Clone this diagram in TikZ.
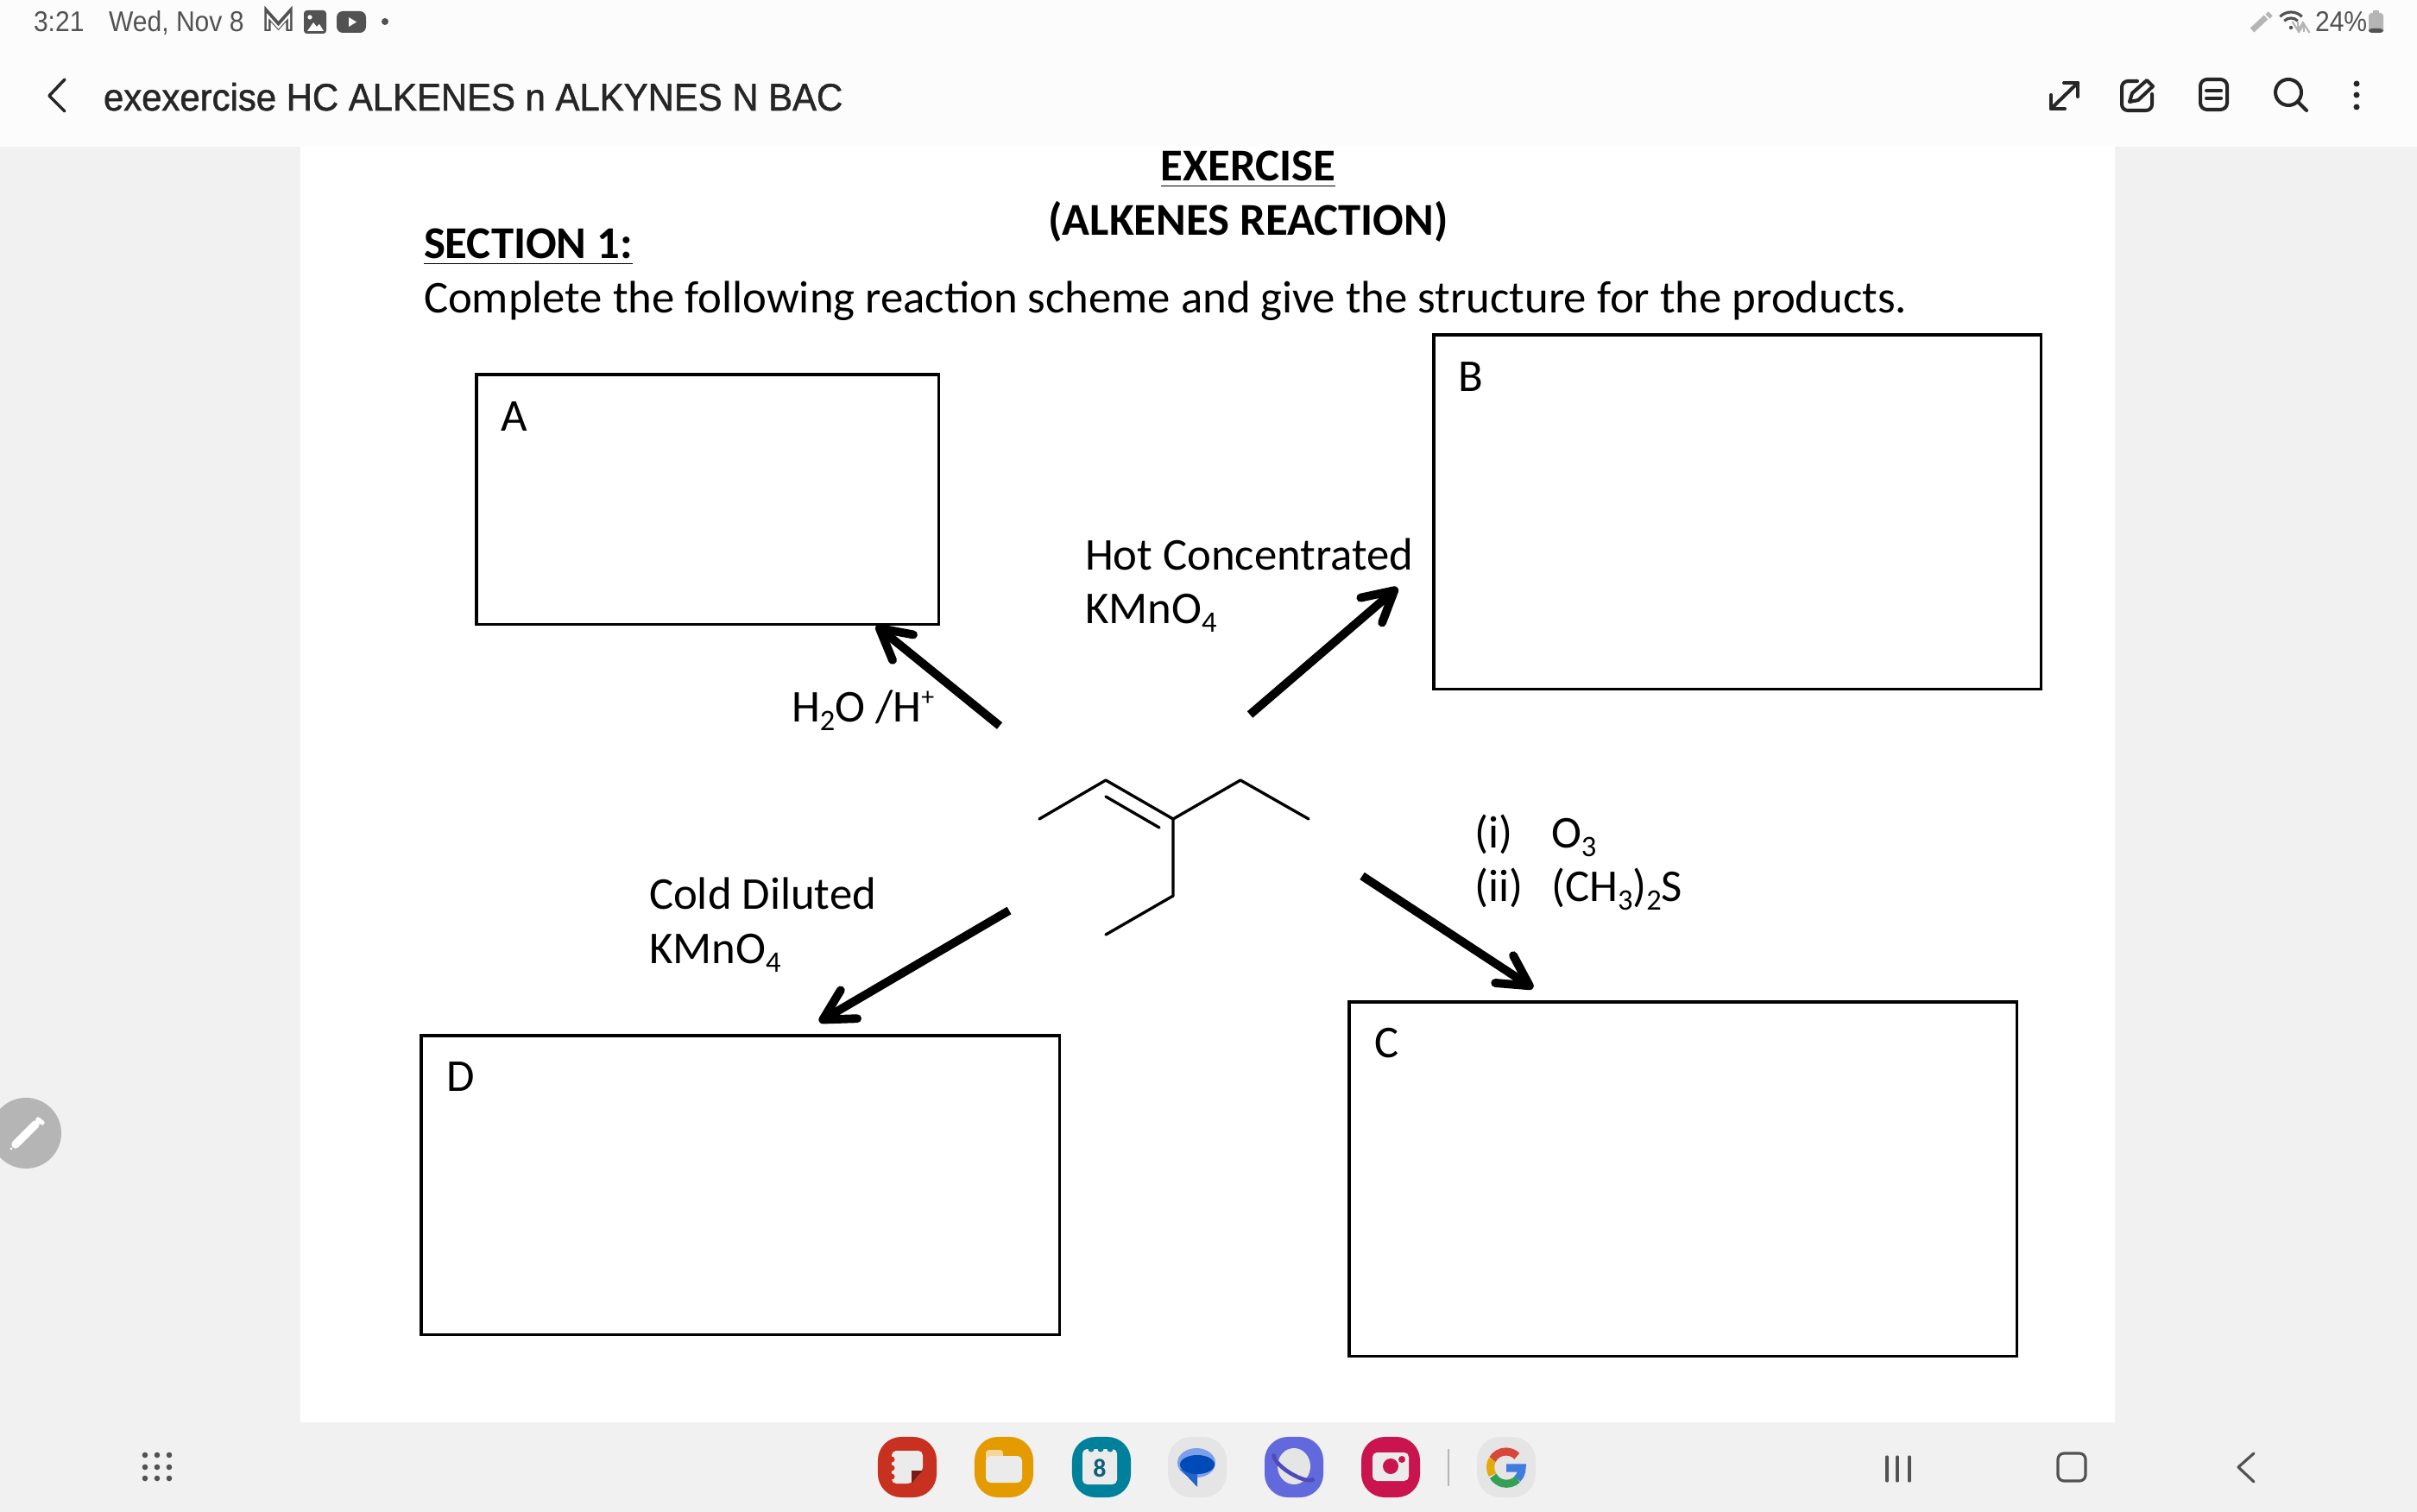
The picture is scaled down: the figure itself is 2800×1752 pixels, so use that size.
\documentclass[tikz,border=0pt]{standalone}
\usepackage{fontspec}
\setmainfont{Carlito}
\newfontfamily\uifont[FakeStretch=0.91]{Liberation Sans}
\newfontfamily\titlefont[FakeStretch=0.945,FakeBold=1.2]{Liberation Sans}
\usetikzlibrary{arrows.meta,positioning}
\definecolor{screengray}{HTML}{F1F1F1}
\definecolor{barwhite}{HTML}{FCFCFC}
\definecolor{uidark}{HTML}{262626}
\definecolor{uitext}{HTML}{525252}
\definecolor{uigray}{HTML}{B5B5B5}
\definecolor{notesred}{HTML}{C8301F}
\definecolor{filesamber}{HTML}{E39B00}
\definecolor{calteal}{HTML}{00809B}
\definecolor{calink}{HTML}{0D5F7A}
\definecolor{netviolet}{HTML}{6269DC}
\definecolor{netring}{HTML}{4F4BBB}
\definecolor{camcrimson}{HTML}{C9144F}
\definecolor{msglight}{HTML}{7BA0E8}
\definecolor{msgblue}{HTML}{0049B8}
\definecolor{gblue}{HTML}{427BE0}
\definecolor{ggreen}{HTML}{34A054}
\definecolor{gyellow}{HTML}{E3AA0A}
\definecolor{gred}{HTML}{D8483A}
\newcommand{\chemdown}[1]{\raisebox{-0.42ex}{\fontsize{9.8}{10}\selectfont #1}}
\newcommand{\chemup}[1]{\raisebox{0.75ex}{\fontsize{8.5}{9}\selectfont #1}}

\begin{document}
\begin{tikzpicture}[
  x=0.01cm, y=-0.01cm,
  every node/.style={inner sep=0pt, outer sep=0pt, align=left},
  doc/.style={anchor=base west, font=\fontsize{15}{17}\selectfont},
  head/.style={anchor=base, font=\fontsize{15}{17}\selectfont\bfseries},
  answer/.style={draw=black, line width=0.9pt, anchor=north west},
  react/.style={-{Straight Barb[length=3.5mm,width=3.8mm,round]}, line width=2.8pt, line cap=butt},
  bond/.style={line width=0.95pt, line cap=round, line join=round},
  status/.style={anchor=base west, text=uitext, font=\uifont\fontsize{9.4}{11}\selectfont},
  tool/.style={draw=uidark, line width=1.15pt, line cap=round, line join=round},
  nav/.style={draw=uitext, line width=0.9pt, line cap=round, line join=round},
  dock/.style={rounded corners=0.27cm, minimum width=0.68cm, minimum height=0.70cm},
  paper/.style={fill=black!8},
]
\useasboundingbox (0,0) rectangle (2800,1752);
\fill[screengray] (0,0) rectangle (2800,1752);
\fill[barwhite] (0,0) rectangle (2800,170);
\fill[white] (348,170) rectangle (2450,1648);

\node[status] (clock) at (39,37) {3:21};
\node[status] (date) at (126,37) {Wed, Nov 8};
\draw[uitext, line width=2pt] (310,36) -- (310,16) -- (322.5,30) -- (335,16) -- (335,36);
\draw[barwhite, line width=0.6pt] (310,34) -- (310,18) -- (322.5,32) -- (335,18) -- (335,34);
\fill[uitext, rounded corners=1pt] (352,12) rectangle (378,39);
\fill[white] (356,36) -- (363,26) -- (367,31) -- (370,28) -- (375,36) -- cycle (359,20) circle (2.6);
\fill[uitext, rounded corners=2pt] (390,13) rectangle (424,38);
\fill[white] (404,20) -- (404,31) -- (413,25.5) -- cycle;
\fill[uitext] (446,25) circle (4);

\draw[tool, line width=1pt] (75,92) -- (57,111) -- (75,129);
\node[anchor=base west, text=uidark, font=\titlefont\fontsize{12.6}{15}\selectfont] (title) at (120,128) {exexercise HC ALKENES n ALKYNES N BAC};

\draw[uigray, line width=1.9pt] (2609,35) -- (2625,20);
\draw[uigray, line width=1.3pt] (2626,15) -- (2631,20);
\draw[uitext, line width=0.9pt] (2641.3,19.3) arc[start angle=225, end angle=315, radius=18];
\draw[uitext, line width=0.9pt] (2646.2,24.2) arc[start angle=225, end angle=315, radius=11];
\fill[uitext] (2654,32) circle (2.2);
\draw[uigray, line width=0.6pt, ->, >={Straight Barb[length=1mm,width=1.3mm]}] (2662,25) -- (2662,37);
\draw[uigray, line width=0.6pt, ->, >={Straight Barb[length=1mm,width=1.3mm]}] (2669,37) -- (2669,26);
\node[status] (battery) at (2682,37) {24\%};
\fill[uigray, rounded corners=1pt] (2744,15) rectangle (2761,38);
\fill[uigray] (2749,12) rectangle (2756,16);
\fill[uitext, rounded corners=1pt] (2744,33) rectangle (2761,38);

\draw[tool] (2376,126) -- (2407,96);
\draw[tool] (2376,110) -- (2376,126) -- (2392,126);
\draw[tool] (2391,96) -- (2407,96) -- (2407,112);
\draw[tool, rounded corners=2pt] (2476,94) -- (2458,94) -- (2458,128) -- (2493,128) -- (2493,109);
\draw[tool] (2467,118) -- (2470,108) -- (2487,93) -- (2494,100) -- (2477,116) -- cycle;
\draw[tool, rounded corners=2.2pt] (2549,92) rectangle (2580,127);
\draw[tool] (2556,105) -- (2573,105) (2556,114) -- (2573,114);
\draw[tool] (2651,107) circle (15) (2662,118) -- (2672,128);
\fill[uidark] (2730,97) circle (3.5) (2730,110) circle (3.5) (2730,124) circle (3.5);

\node[head] (exercise) at (1446,210) {\underline{EXERCISE}};
\node[head] (reaction) at (1446,273) {(ALKENES REACTION)};
\node[doc] (section) at (491,300) {\textbf{\underline{SECTION 1:}}};
\node[doc] (task) at (491,363) {Complete the following reaction scheme and give the structure for the products.};

\node[answer, minimum width=5.35cm, minimum height=2.89cm] (boxA) at (552,434) {};
\node[answer, minimum width=7.03cm, minimum height=4.10cm] (boxB) at (1661,388) {};
\node[answer, minimum width=7.73cm, minimum height=4.10cm] (boxC) at (1563,1161) {};
\node[answer, minimum width=7.39cm, minimum height=3.46cm] (boxD) at (488,1200) {};
\node[doc] (tagA) at (580,499) {A};
\node[doc] (tagB) at (1689,453) {B};
\node[doc] (tagC) at (1592,1225) {C};
\node[doc] (tagD) at (517,1264) {D};

\node[doc] (hot) at (1257,660) {Hot Concentrated};
\node[doc] (hotsalt) at (1257,722) {KMnO\chemdown{4}};
\node[doc] (water) at (917,836) {H\chemdown{2}O /H\chemup{+}};
\node[doc] (cold) at (752,1053) {Cold Diluted};
\node[doc] (coldsalt) at (752,1116) {KMnO\chemdown{4}};
\node[doc] (stepone) at (1708,982) {(i)};
\node[doc] (ozone) at (1797,982) {O\chemdown{3}};
\node[doc] (steptwo) at (1708,1044) {(ii)};
\node[doc] (sulfide) at (1797,1044) {(CH\chemdown{3})\chemdown{2}S};

\coordinate (c1) at (1204,949);
\coordinate (c2) at (1281,904);
\coordinate (c3) at (1359,949);
\coordinate (c4) at (1437,904);
\coordinate (c5) at (1516,949);
\coordinate (c6) at (1359,1038);
\coordinate (c7) at (1281,1083);
\coordinate (dblA) at (1281,923);
\coordinate (dblB) at (1343,959);
\draw[bond] (c1) -- (c2) -- (c3) -- (c4) -- (c5);
\draw[bond] (c3) -- (c6) -- (c7);
\draw[bond] (dblA) -- (dblB);

\coordinate (tailA) at (1158,841);
\coordinate (tipA) at (1015,725);
\coordinate (tailB) at (1448,828);
\coordinate (tipB) at (1619,681);
\coordinate (tailC) at (1578,1015);
\coordinate (tipC) at (1776,1145);
\coordinate (tailD) at (1169,1055);
\coordinate (tipD) at (949,1184);
\draw[react] (tailA) -- (tipA);
\draw[react] (tailB) -- (tipB);
\draw[react] (tailC) -- (tipC);
\draw[react] (tailD) -- (tipD);

\fill[uigray] (30,1313) circle (41);
\draw[white, line width=2.7pt, line cap=round] (18,1326) -- (41,1303);
\draw[white, line width=1.5pt, line cap=round] (44,1297) -- (49,1301);
\fill[white] (13,1331) circle (1.6);
\fill[uitext] (168,1686) circle (3.3) (182,1686) circle (3.3) (196,1686) circle (3.3)
  (168,1700) circle (3.3) (182,1700) circle (3.3) (196,1700) circle (3.3)
  (168,1713) circle (3.3) (182,1713) circle (3.3) (196,1713) circle (3.3);

\node[dock, fill=notesred] (notes) at (1051,1700) {};
\fill[paper, rounded corners=1.5pt] (1033,1681) -- (1069,1681) -- (1069,1704) -- (1056,1719) -- (1033,1719) -- cycle;
\fill[notesred] (1033,1691) circle (3.5) (1033,1701) circle (3.5) (1033,1711) circle (3.5);
\fill[notesred!60!black] (1069,1704) -- (1056,1704) -- (1056,1719) -- cycle;
\node[dock, fill=filesamber] (files) at (1163,1700) {};
\fill[filesamber!40!white, rounded corners=1pt] (1142,1680) rectangle (1162,1692);
\fill[paper, rounded corners=1.5pt] (1142,1687) rectangle (1184,1718);
\node[dock, fill=calteal] (calendar) at (1276,1700) {};
\fill[paper, rounded corners=1.5pt] (1254,1679) rectangle (1294,1720);
\fill[calteal] (1264,1679) circle (3.5) (1275,1679) circle (3.5) (1286,1679) circle (3.5);
\node[text=calink, font=\fontsize{8.5}{9}\selectfont\bfseries] (day) at (1274,1701) {8};
\node[dock, fill=black!10] (messages) at (1387,1700) {};
\fill[msglight] (1386,1695) ellipse (22 and 17);
\fill[msgblue!70!msglight] (1367,1702) -- (1387,1723) -- (1387,1705) -- cycle;
\fill[msgblue] (1387,1697) ellipse (20 and 11);
\node[dock, fill=netviolet] (internet) at (1499,1700) {};
\fill[black!10] (1499,1699) ellipse (19 and 21);
\draw[netring, line width=1.3pt, rotate around={-32:(1499,1699)}] (1472,1699) arc[start angle=180, end angle=0, x radius=27, y radius=9];
\node[dock, fill=camcrimson] (camera) at (1611,1700) {};
\fill[paper, rounded corners=1.5pt] (1590,1683) rectangle (1632,1716);
\fill[camcrimson] (1611,1699) circle (9) (1624,1691) circle (4);
\draw[uigray, line width=0.8pt] (1678,1679) -- (1678,1722);
\node[dock, fill=black!10] (google) at (1745,1700) {};
\draw[gblue, line width=2.6pt] (1745,1701) -- (1763,1701) arc[start angle=0, end angle=45, radius=18];
\draw[ggreen, line width=2.6pt] (1758,1714) arc[start angle=45, end angle=150, radius=18];
\draw[gyellow, line width=2.6pt] (1729,1709) arc[start angle=150, end angle=210, radius=18];
\draw[gred, line width=2.6pt] (1729,1691) arc[start angle=210, end angle=315, radius=18];

\draw[nav] (2186,1688) -- (2186,1716) (2198,1688) -- (2198,1716) (2212,1688) -- (2212,1716);
\draw[nav, rounded corners=2pt] (2384,1684) rectangle (2416,1716);
\draw[nav] (2611,1684) -- (2593,1700) -- (2611,1717);
\end{tikzpicture}
\end{document}
